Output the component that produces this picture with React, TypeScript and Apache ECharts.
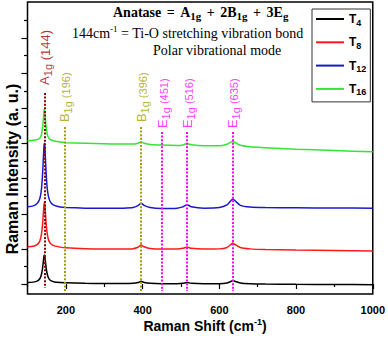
import React, { useEffect, useRef } from 'react';
import * as echarts from 'echarts';

// ---------- data ----------
const ramanShift = [100, 115, 125, 132, 136, 139, 141, 143, 144, 145, 147, 149, 152, 156, 162, 170, 185, 200, 250, 300, 350, 375, 388, 396, 404, 420, 450, 490, 505, 516, 527, 560, 600, 620, 630, 635, 641, 655, 680, 720, 800, 900, 1000];
const intensityT4 = [40, 53, 82, 148, 254, 428, 615, 794, 826, 794, 615, 428, 254, 148, 87, 59, 42, 36, 18, 12, 12, 18, 40, 75, 45, 20, 10, 10, 20, 45, 20, 8, 10, 30, 70, 100, 75, 30, 10, 0, -10, -15, -20];
const intensityT8 = [1060, 1075, 1120, 1220, 1390, 1670, 1970, 2260, 2310, 2260, 1970, 1670, 1390, 1220, 1130, 1085, 1050, 1030, 1005, 995, 995, 1005, 1045, 1110, 1060, 1010, 995, 995, 1015, 1055, 1015, 995, 1000, 1040, 1120, 1165, 1125, 1040, 1000, 980, 965, 955, 940];
const intensityT12 = [2200, 2225, 2290, 2430, 2670, 3070, 3510, 3930, 4010, 3930, 3510, 3070, 2670, 2430, 2300, 2240, 2195, 2180, 2160, 2155, 2160, 2175, 2230, 2300, 2240, 2175, 2150, 2160, 2195, 2260, 2200, 2160, 2175, 2250, 2370, 2420, 2370, 2240, 2190, 2175, 2170, 2165, 2160];
const intensityT16 = [4080, 4090, 4110, 4150, 4240, 4430, 4650, 4920, 4985, 4920, 4650, 4430, 4240, 4150, 4100, 4070, 4040, 4025, 4010, 3995, 3985, 3985, 4010, 4045, 4010, 3975, 3955, 3945, 3960, 4000, 3965, 3935, 3935, 3980, 4040, 4060, 4030, 3950, 3905, 3880, 3840, 3800, 3765];
const seriesNames = ['T4', 'T8', 'T12', 'T16'];

const modeSymbols = ['A', 'B', 'B', 'E', 'E', 'E'];
const modeShifts = [144, 196, 396, 451, 516, 635];
const modeLineTop = [5440, 4470, 4470, 4330, 4330, 4330];
const modeLineBottom = [-110, -200, -200, -200, -200, -200];
const modeLabelBase = [5670, 4610, 4610, 4440, 4440, 4440];

const xMajorTicks = [200, 400, 600, 800, 1000];
const xMinorTicks = [100, 300, 500, 700, 900];
const yMajorTicks = [0, 1000, 2000, 3000, 4000, 5000, 6000, 7000];
const yMinorTicks = [500, 1500, 2500, 3500, 4500, 5500, 6500, 7500];

// ---------- styles ----------
const sans = '"Liberation Sans", Arial, sans-serif';
const serif = '"Liberation Serif", "Times New Roman", serif';
const seriesColors = ['#000000', '#ff1a1a', '#1a1acc', '#33e633'];
const modeLineColors = ['#8b0000', '#a0a000', '#a0a000', '#ff00ff', '#ff00ff', '#ff00ff'];
const modeLabelColors = ['#a00000', '#a0a000', '#a0a000', '#ff00ff', '#ff00ff', '#ff00ff'];
const modeParenSize = [13, 11, 11, 11, 11, 11];

export default function App() {
  const ref = useRef<HTMLDivElement>(null);
  useEffect(() => {
    if (!ref.current) return;
    const chart = echarts.init(ref.current, null, { renderer: 'svg' });
    const allSeries = [intensityT4, intensityT8, intensityT12, intensityT16];
    const tickLine = { color: '#000', width: 1.2 };
    chart.setOption({
      animation: false,
      backgroundColor: '#fff',
      grid: { left: 27.5, right: 13.5, top: 2, bottom: 46, show: true, borderColor: '#000', borderWidth: 1.5, backgroundColor: 'transparent' },
      xAxis: [
        {
          type: 'value', min: 100, max: 1000, position: 'bottom',
          axisLine: { show: false }, splitLine: { show: false },
          axisTick: { show: true, customValues: xMajorTicks, length: 5, lineStyle: tickLine },
          axisLabel: { customValues: xMajorTicks, margin: 10, fontSize: 11, fontWeight: 'bold', color: '#000', fontFamily: sans, formatter: (v: number) => String(v) },
        },
        {
          type: 'value', min: 100, max: 1000, position: 'bottom',
          axisLine: { show: false }, splitLine: { show: false },
          axisTick: { show: true, customValues: xMinorTicks, length: 3, lineStyle: tickLine },
          axisLabel: { show: false },
        },
      ],
      yAxis: [
        {
          type: 'value', min: -285, max: 8030, position: 'left',
          axisLine: { show: false }, splitLine: { show: false },
          axisTick: { show: true, customValues: yMajorTicks, length: 6, lineStyle: tickLine },
          axisLabel: { show: false },
        },
        {
          type: 'value', min: -285, max: 8030, position: 'left',
          axisLine: { show: false }, splitLine: { show: false },
          axisTick: { show: true, customValues: yMinorTicks, length: 3.5, lineStyle: tickLine },
          axisLabel: { show: false },
        },
      ],
      legend: {
        data: seriesNames, orient: 'vertical', left: 312, top: 9,
        itemWidth: 28, itemHeight: 12, itemGap: 7.3,
        padding: [2, 4, 5, 3], borderColor: '#333', borderWidth: 1, backgroundColor: '#fff',
        itemStyle: { opacity: 0, color: 'transparent', borderWidth: 0 },
        formatter: (n: string) => `{t|T}{s|${n.slice(1)}}`,
        textStyle: {
          rich: {
            t: { fontSize: 12, fontWeight: 'bold', fontFamily: sans, color: '#000', lineHeight: 14 },
            s: { fontSize: 9, fontWeight: 'bold', fontFamily: sans, color: '#000', lineHeight: 14, padding: [7, 0, 0, 0] },
          },
        },
      },
      series: [
        ...allSeries.map((vals, k) => ({
          name: seriesNames[k], type: 'line', xAxisIndex: 0, yAxisIndex: 0,
          data: ramanShift.map((x, i) => [x, vals[i]]),
          symbol: 'none', smooth: 0.2,
          lineStyle: { color: seriesColors[k], width: 1.5 },
          itemStyle: { color: seriesColors[k] },
        })),
        {
          name: 'modes', type: 'line', data: [], z: 5, silent: true,
          markLine: {
            symbol: 'none', silent: true, label: { show: false },
            data: modeShifts.map((s, i) => [
              { coord: [s, modeLineTop[i]], lineStyle: { color: modeLineColors[i], width: 2, type: [2, 1.6] } },
              { coord: [s, modeLineBottom[i]] },
            ]),
          },
        },
        {
          name: 'modeLabels', type: 'scatter', z: 10, silent: true, symbolSize: 0,
          data: modeShifts.map((s, i) => {
            const c = modeLabelColors[i];
            return {
              value: [s, modeLabelBase[i]],
              label: {
                show: true, position: [0, 0], rotate: 90, align: 'left', verticalAlign: 'middle',
                formatter: `{m|${modeSymbols[i]}}{s|1g}{p| (${s})}`,
                rich: {
                  m: { fontSize: 13, fontFamily: sans, color: c },
                  s: { fontSize: 11, fontFamily: sans, color: c, padding: [7, 0, 0, 0] },
                  p: { fontSize: modeParenSize[i], fontFamily: sans, color: c, padding: [3, 0, 0, 0] },
                },
              },
            };
          }),
        },
      ],
      graphic: [
        {
          type: 'text', x: 12, y: 169, rotation: Math.PI / 2, z: 10,
          style: { text: 'Raman Intensity (a. u.)', align: 'center', verticalAlign: 'middle', fontFamily: sans, fontWeight: 'bold', fontSize: 16, fill: '#000' },
        },
        {
          type: 'text', x: 113, y: 12, z: 10,
          style: {
            text: '{b|Anatase}{o|=}{b|A}{s|1g}{o|+}{b|2B}{s|1g}{o|+}{b|3E}{s|g}',
            align: 'left', verticalAlign: 'middle',
            rich: {
              b: { fontFamily: serif, fontWeight: 'bold', fontSize: 14, fill: '#000' },
              o: { fontFamily: serif, fontWeight: 'bold', fontSize: 14, fill: '#000', padding: [0, 5.5, 0, 5.5] },
              s: { fontFamily: serif, fontWeight: 'bold', fontSize: 11, fill: '#000', padding: [7, 0, 0, 0] },
            },
          },
        },
        {
          type: 'text', x: 72, y: 33, z: 10,
          style: {
            text: '{r|144cm}{u|-1}{r| = Ti-O stretching vibration bond}',
            align: 'left', verticalAlign: 'middle',
            rich: {
              r: { fontFamily: serif, fontSize: 14, fill: '#000' },
              u: { fontFamily: serif, fontSize: 9, fill: '#000', padding: [0, 0, 8, 0] },
            },
          },
        },
        {
          type: 'text', x: 153, y: 50, z: 10,
          style: { text: 'Polar vibrational mode', align: 'left', verticalAlign: 'middle', fontFamily: serif, fontSize: 14, fill: '#000' },
        },
        {
          type: 'text', x: 205, y: 326, z: 10,
          style: {
            text: '{a|Raman Shift (cm}{u|-1}{a|)}',
            align: 'center', verticalAlign: 'middle',
            rich: {
              a: { fontFamily: sans, fontWeight: 'bold', fontSize: 14, fill: '#000' },
              u: { fontFamily: sans, fontWeight: 'bold', fontSize: 9, fill: '#000', padding: [0, 0, 8, 0] },
            },
          },
        },
      ],
    });
    return () => chart.dispose();
  }, []);
  return <div ref={ref} style={{ position: 'fixed', left: 0, top: 0, width: 388, height: 340 }} />;
}
